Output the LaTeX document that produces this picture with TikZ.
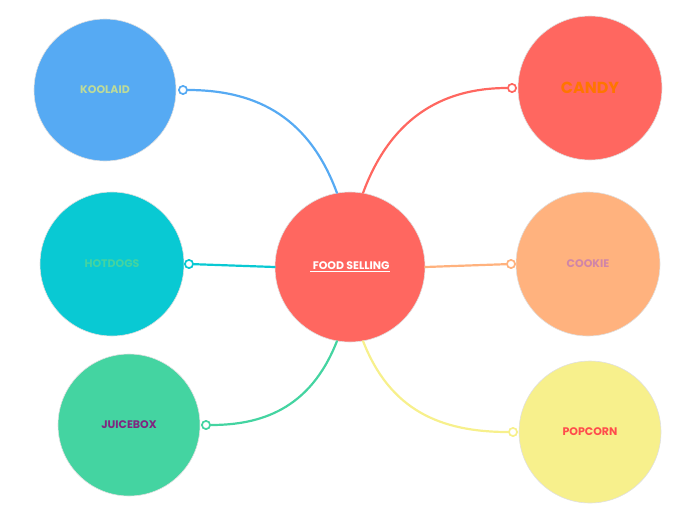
\documentclass[tikz,border=0pt]{standalone}
\usepackage{fontspec}
\setmainfont{Poppins}
\begin{document}
\begin{tikzpicture}[x=1pt,y=-1pt,
  bub/.style={circle,minimum size=#1,inner sep=0pt,draw=black!12,line width=0.6pt,font=\bfseries\fontsize{11}{13}\selectfont},
  conn/.style={line width=2.2pt,line cap=round},
  mk/.style={circle,draw,fill=white,line width=1.6pt,minimum size=8pt,inner sep=0pt}]
\useasboundingbox (0,0) rectangle (696,520);
\definecolor{cblue}{HTML}{56AAF3}
\definecolor{cred}{HTML}{FF6760}
\definecolor{cteal}{HTML}{09C9D3}
\definecolor{corange}{HTML}{FFB27E}
\definecolor{cgreen}{HTML}{44D4A1}
\definecolor{cyellow}{HTML}{F7F08C}
\node[bub=150pt,fill=cred,text=white] (c) at (350,267) {\underline{\ FOOD SELLING}};
\node[bub=142pt,fill=cblue,text=green!30!olive!40!white] (k) at (105,90) {KOOLAID};
\node[bub=144pt,fill=cred,text=orange!80!red!90!yellow] (ca) at (590,88) {\fontsize{16}{18}\selectfont CANDY};
\node[bub=144pt,fill=cteal,text=cgreen] (h) at (112,264) {HOTDOGS};
\node[bub=144pt,fill=corange,text=violet!30!pink!90!gray] (co) at (588,264) {COOKIE};
\node[bub=142pt,fill=cgreen,text=violet!70!gray] (j) at (129,425) {JUICEBOX};
\node[bub=142pt,fill=cyellow,text=red!60!pink] (p) at (590,432) {POPCORN};
\node[mk,draw=cblue] (mk) at (183,90) {};
\node[mk,draw=cred] (mca) at (512,88) {};
\node[mk,draw=cteal] (mh) at (189,264) {};
\node[mk,draw=corange] (mco) at (511,264) {};
\node[mk,draw=cgreen] (mj) at (206,425) {};
\node[mk,draw=cyellow] (mp) at (513,432) {};
\begin{scope}[on background layer/.style={}]
\draw[conn,cblue] (c.100) .. controls (310,120) and (260,90) .. (mk);
\draw[conn,cred] (c.80) .. controls (390,120) and (440,88) .. (mca);
\draw[conn,cteal] (c.west) -- (mh);
\draw[conn,corange] (c.east) -- (mco);
\draw[conn,cgreen] (c.260) .. controls (310,410) and (260,425) .. (mj);
\draw[conn,cyellow] (c.280) .. controls (390,410) and (440,432) .. (mp);
\end{scope}
\node[mk,draw=cblue] at (mk) {};
\node[mk,draw=cred] at (mca) {};
\node[mk,draw=cteal] at (mh) {};
\node[mk,draw=corange] at (mco) {};
\node[mk,draw=cgreen] at (mj) {};
\node[mk,draw=cyellow] at (mp) {};
\end{tikzpicture}
\end{document}
